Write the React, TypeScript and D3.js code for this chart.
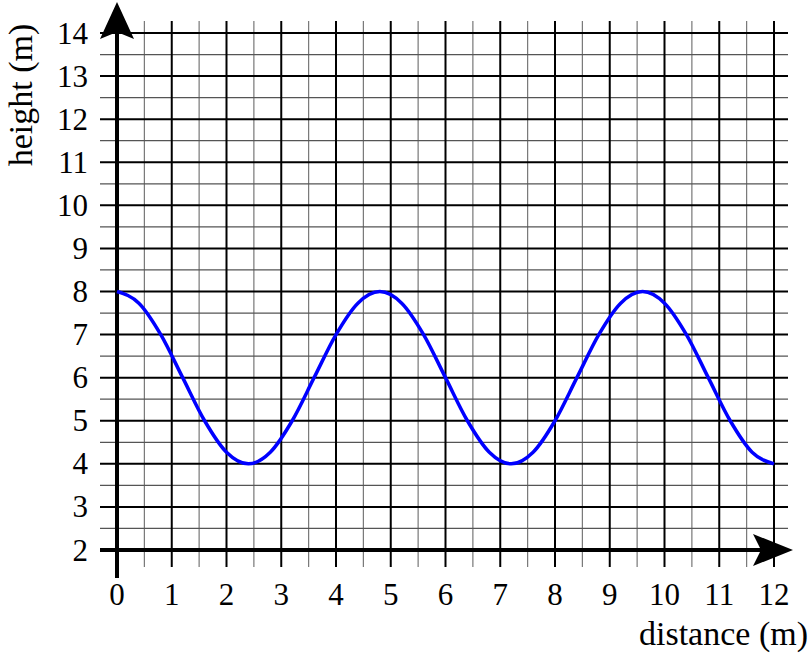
import React from 'react'
import * as d3 from 'd3'

// readings of the blue curve (distance m, height m)
const distance = [0, 0.4, 0.8, 1.2, 1.6, 2.0, 2.4, 2.8, 3.2, 3.6, 4.0, 4.4, 4.8, 5.2, 5.6, 6.0, 6.4, 6.8, 7.2, 7.6, 8.0, 8.4, 8.8, 9.2, 9.6, 10.0, 10.4, 10.8, 11.2, 11.6, 12.0]
const height = [8, 7.73, 7, 6, 5, 4.27, 4, 4.27, 5, 6, 7, 7.73, 8, 7.73, 7, 6, 5, 4.27, 4, 4.27, 5, 6, 7, 7.73, 8, 7.73, 7, 6, 5, 4.27, 4]

const xTicks = [0, 1, 2, 3, 4, 5, 6, 7, 8, 9, 10, 11, 12]
const yTicks = [2, 3, 4, 5, 6, 7, 8, 9, 10, 11, 12, 13, 14]

const W = 811
const H = 658
const font = '"Liberation Serif", "Times New Roman", serif'

const App = () => {
  const x = d3.scaleLinear().domain([0, 12]).range([117, 774])
  const y = d3.scaleLinear().domain([2, 14]).range([550, 33])

  const halves = d3.range(0, 24.5, 1).map((d) => d / 2)
  const halvesY = d3.range(4, 28.5, 1).map((d) => d / 2)

  const line = d3
    .line<number>()
    .x((d, i) => x(distance[i]))
    .y((d) => y(d))
    .curve(d3.curveMonotoneX)

  const gx0 = 100
  const gx1 = 788
  const gy0 = 21
  const gy1 = 567

  const ox = x(0)
  const oy = y(2)

  return (
    <svg width={W} height={H} style={{ position: 'absolute', left: 0, top: 0 }}>
      <rect width={W} height={H} fill="#fff" />
      {/* minor grid */}
      {halves.filter((d) => d % 1 !== 0).map((d) => (
        <line key={'vx' + d} x1={x(d)} x2={x(d)} y1={gy0} y2={gy1} stroke="#777" strokeWidth={1.2} />
      ))}
      {halvesY.filter((d) => d % 1 !== 0).map((d) => (
        <line key={'hy' + d} x1={gx0} x2={gx1} y1={y(d)} y2={y(d)} stroke="#555" strokeWidth={1.2} />
      ))}
      {/* major grid */}
      {xTicks.map((d) => (
        <line key={'VX' + d} x1={x(d)} x2={x(d)} y1={gy0} y2={gy1} stroke="#000" strokeWidth={2} />
      ))}
      {yTicks.map((d) => (
        <line key={'HY' + d} x1={gx0} x2={gx1} y1={y(d)} y2={y(d)} stroke="#000" strokeWidth={2} />
      ))}

      {/* axes */}
      <line x1={ox} x2={ox} y1={578} y2={30} stroke="#000" strokeWidth={4} />
      <line x1={gx0} x2={765} y1={oy} y2={oy} stroke="#000" strokeWidth={4} />
      <path d={`M${ox},2 L${ox + 17},39 L${ox},32 L${ox - 17},39 Z`} fill="#000" />
      <path d={`M793,${oy} L753,${oy - 16} L761,${oy} L753,${oy + 16} Z`} fill="#000" />

      <path d={line(height) || ''} fill="none" stroke="#0000ff" strokeWidth={3.5} />

      {yTicks.map((d) => (
        <text key={'ty' + d} x={88} y={y(d)} dy="0.34em" textAnchor="end" fontFamily={font} fontSize={31} fill="#000">
          {d}
        </text>
      ))}
      {xTicks.map((d) => (
        <text key={'tx' + d} x={x(d)} y={605} textAnchor="middle" fontFamily={font} fontSize={31} fill="#000">
          {d}
        </text>
      ))}
      <text x={808} y={645} textAnchor="end" fontFamily={font} fontSize={34} fill="#000">
        distance (m)
      </text>
      <text transform="translate(32,95) rotate(-90)" textAnchor="middle" fontFamily={font} fontSize={34} fill="#000">
        height (m)
      </text>
    </svg>
  )
}

export default App
